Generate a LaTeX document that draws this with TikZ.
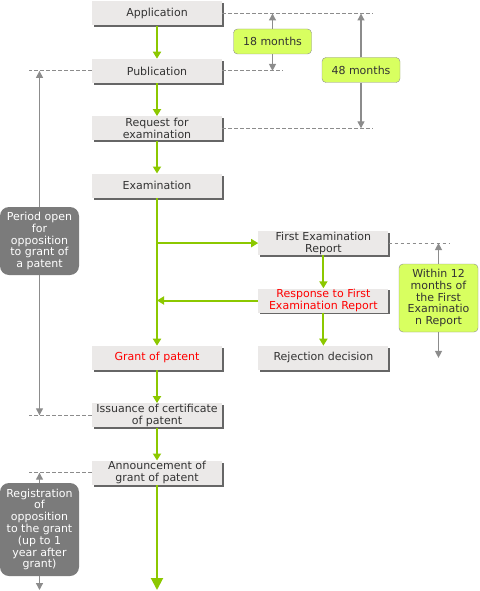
\documentclass[tikz,border=0pt]{standalone}
\usepackage{fontspec}
\setmainfont{DejaVu Sans}
\usetikzlibrary{positioning,arrows.meta,shadows}
\definecolor{flowgreen}{HTML}{8CC800}
\definecolor{stagefill}{HTML}{EBE9E8}
\definecolor{stagetext}{HTML}{333333}
\definecolor{limefill}{HTML}{D8FF60}
\definecolor{dimgray}{HTML}{8C8C8C}
\definecolor{darktag}{HTML}{7B7B7B}

\begin{document}
\begin{tikzpicture}[x=1pt, y=-1pt, node distance=33pt and 36pt,
  stage/.style={shape=rectangle, fill=stagefill, minimum width=130pt, minimum height=24pt, inner sep=0.5pt, align=center, text=stagetext, font=\fontsize{11}{11.8}\selectfont, drop shadow={shadow xshift=1.5pt, shadow yshift=-1.8pt, fill=black!60, opacity=1}},
  key stage/.style={stage, text=red},
  month tag/.style={shape=rectangle, rounded corners=4pt, draw=dimgray, fill=limefill, align=center, text=stagetext, font=\fontsize{11}{11.8}\selectfont, inner sep=1pt, minimum height=25pt, minimum width=78pt},
  dark tag/.style={shape=rectangle, rounded corners=9pt, fill=darktag, align=center, text=white, font=\fontsize{11}{11.8}\selectfont, inner sep=0.5pt, minimum width=79pt},
  flow/.style={draw=flowgreen, line width=2pt, -{Triangle[length=7pt, width=8pt]}},
  dim/.style={draw=dimgray, line width=1.3pt, -{Triangle[length=7pt, width=7pt]}},
  level/.style={draw=dimgray, line width=0.8pt, dash pattern=on 3.5pt off 2.5pt}]
\useasboundingbox (0,0) rectangle (479,591);

\node [stage] (app) at (157,13.5) {Application};
\node [stage, below=of app] (pub) {Publication};
\node [stage, below=of pub] (req) {Request for\\examination};
\node [stage, below=of req] (exam) {Examination};
\node [stage, below right=of exam] (fer) {First Examination\\Report};
\node [key stage, below=of fer] (resp) {Response to First\\Examination Report};
\node [stage, below=of resp] (rej) {Rejection decision};
\node [key stage, left=of rej] (grant) {Grant of patent};
\node [stage, below=of grant] (issue) {Issuance of certificate\\of patent};
\node [stage, below=of issue] (ann) {Announcement of\\grant of patent};

\coordinate (right long) at (373,0);
\coordinate (right short) at (283,0);
\coordinate (right fer) at (450,0);
\coordinate (left end) at (29,0);
\coordinate (bottom) at (0,590);

% dashed levels
\draw[level] (app.east) -- (app.east -| right long);
\draw[level] (pub.east) -- (pub.east -| right short);
\draw[level] (req.east) -- (req.east -| right long);
\draw[level] (fer.east) -- (fer.east -| right fer);
\draw[level] (pub.west) -- (pub.west -| left end);
\draw[level] (issue.west) -- (issue.west -| left end);
\draw[level] (ann.west) -- (ann.west -| left end);

% time spans
\node [month tag] (m18) at (272.5,41.5) {18 months};
\node [month tag] (m48) at (361,70) {48 months};
\node [month tag, minimum height=68pt, minimum width=79pt] (m12) at (438.5,298) {Within 12\\months of\\the First\\Examinatio\\n Report};
\node [dark tag, minimum height=68pt] (oppo) at (39.5,241) {Period open\\for\\opposition\\to grant of\\a patent};
\node [dark tag, minimum height=93pt] (regi) at (39.5,529.5) {Registration\\of\\opposition\\to the grant\\(up to 1\\year after\\grant)};

\draw[dim] (m18.north) -- (m18.north |- app);
\draw[dim] (m18.south) -- (m18.south |- pub);
\draw[dim] (m48.north) -- (m48.north |- app);
\draw[dim] (m48.south) -- (m48.south |- req);
\draw[dim] (m12.north) -- (m12.north |- fer);
\draw[dim] (m12.south) -- (m12.south |- rej);
\draw[dim] (oppo.north) -- (oppo.north |- pub);
\draw[dim] (oppo.south) -- (oppo.south |- issue);
\draw[dim] (regi.north) -- (regi.north |- ann);
\draw[dim] (regi.south) -- (regi.south |- bottom);

% main flow
\draw[flow] (app) -- (pub);
\draw[flow] (pub) -- (req);
\draw[flow] (req) -- (exam);
\draw[flow] (exam) -- (grant);
\draw[flow] (exam.south |- fer) -- (fer);
\draw[flow] (fer) -- (resp);
\draw[flow] (resp) -- (resp -| exam);
\draw[flow] (resp) -- (rej);
\draw[flow] (grant) -- (issue);
\draw[flow] (issue) -- (ann);
\draw[flow, -{Triangle[length=12pt, width=12pt]}] (ann) -- (ann |- bottom);
\end{tikzpicture}
\end{document}
